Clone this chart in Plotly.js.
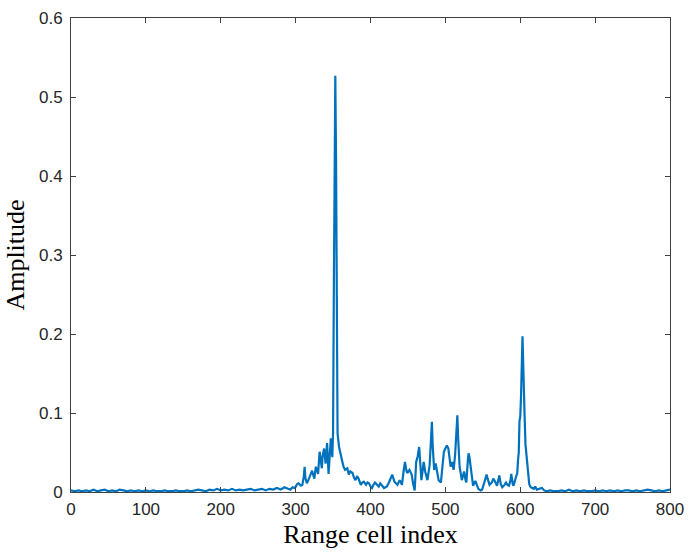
<!DOCTYPE html>
<html>
<head>
<meta charset="utf-8">
<script src="https://cdn.plot.ly/plotly-3.0.1.min.js"></script>
<style>html,body{margin:0;padding:0;background:#fff;}#chart{width:690px;height:558px;}</style>
</head>
<body>
<div id="chart"></div>
<script>
// Range cell index (x) and amplitude (y)
var rangeCell = [
  0,5,10,15,20,25,30,35,40,45,50,55,60,65,70,75,80,85,90,95,
  100,105,110,115,120,125,130,135,140,145,150,155,160,165,170,175,180,185,190,195,
  200,205,210,215,220,225,230,235,240,245,250,255,260,265,270,275,280,285,
  290,293,296,299,302,304,307,309,311,312,313,315,317,319,322,324,325,327,329,330,
  332,334,335,336,338,340,342,344,345,347,349,350,351,352,353,354,355,356,358,360,
  362,364,366,369,371,373,376,378,380,382,384,387,389,391,394,396,398,400,402,404,
  406,409,411,413,416,418,420,422,425,427,429,431,432,434,436,439,441,442,444,446,
  448,449,452,455,457,459,461,463,465,467,468,470,471,473,476,479,481,482,483,485,
  487,489,491,494,496,498,500,502,504,506,507,509,511,513,515,516,517,519,522,525,
  527,528,530,531,532,534,537,540,542,544,547,549,552,555,557,559,562,564,566,569,
  571,572,574,576,579,581,583,585,587,588,590,591,594,596,597,598,599,600,601,602,
  603,604,605,606,607,608,610,611,612,614,616,618,620,622,625,629,632,635,
  640,645,650,655,660,665,670,675,680,685,690,695,700,705,710,715,720,725,730,735,
  740,745,750,755,760,765,770,775,780,785,790,795,800
];
var amplitude = [
  0.002,0.001,0.002,0.001,0.002,0.001,0.003,0.001,0.002,0.003,0.001,0.002,0.001,0.003,0.002,0.001,0.002,0.001,0.002,0.001,
  0.002,0.001,0.002,0.001,0.001,0.002,0.001,0.001,0.002,0.001,0.001,0.002,0.001,0.002,0.003,0.002,0.001,0.003,0.002,0.004,
  0.002,0.003,0.002,0.004,0.002,0.003,0.002,0.003,0.004,0.002,0.003,0.004,0.002,0.004,0.003,0.005,0.003,0.006,
  0.004,0.003,0.006,0.005,0.010,0.011,0.008,0.009,0.020,0.032,0.018,0.011,0.015,0.021,0.027,0.020,0.017,0.032,0.025,0.023,
  0.051,0.030,0.030,0.045,0.055,0.036,0.062,0.023,0.045,0.068,0.044,0.075,0.250,0.450,0.527,0.420,0.200,0.074,0.057,0.050,
  0.040,0.032,0.028,0.030,0.022,0.026,0.024,0.018,0.015,0.020,0.017,0.009,0.012,0.013,0.009,0.012,0.011,0.007,0.005,0.009,
  0.012,0.009,0.007,0.011,0.008,0.005,0.006,0.007,0.013,0.018,0.022,0.016,0.013,0.011,0.009,0.015,0.012,0.009,0.025,0.038,
  0.027,0.024,0.028,0.022,0.010,0.002,0.038,0.045,0.057,0.030,0.015,0.030,0.038,0.026,0.015,0.034,0.070,0.089,0.060,0.028,
  0.036,0.025,0.015,0.012,0.030,0.051,0.055,0.059,0.055,0.040,0.032,0.038,0.028,0.047,0.080,0.097,0.070,0.032,0.015,0.026,
  0.015,0.012,0.040,0.049,0.045,0.032,0.008,0.014,0.008,0.004,0.002,0.003,0.012,0.022,0.015,0.009,0.012,0.017,0.014,0.008,
  0.016,0.021,0.010,0.006,0.009,0.012,0.009,0.008,0.015,0.023,0.010,0.008,0.018,0.024,0.040,0.050,0.090,0.095,0.120,0.170,
  0.197,0.160,0.110,0.090,0.060,0.045,0.030,0.020,0.010,0.006,0.005,0.004,0.007,0.003,0.004,0.005,0.002,0.001,
  0.002,0.001,0.001,0.002,0.001,0.003,0.001,0.002,0.001,0.002,0.001,0.001,0.002,0.001,0.002,0.001,0.002,0.001,0.002,0.001,
  0.002,0.002,0.001,0.002,0.001,0.002,0.003,0.002,0.001,0.002,0.001,0.002,0.003
];
var xTicks = [0,100,200,300,400,500,600,700,800];
var yTicks = [0,0.1,0.2,0.3,0.4,0.5,0.6];
var yTickLabels = ['0','0.1','0.2','0.3','0.4','0.5','0.6'];

var trace = {
  x: rangeCell, y: amplitude, type: 'scatter', mode: 'lines',
  line: {color: '#0072BD', width: 2.2}, hoverinfo: 'none'
};
var axisCommon = {
  showgrid: false, zeroline: false, showline: true, linecolor: '#404040', linewidth: 1,
  mirror: 'ticks', ticks: 'inside', ticklen: 5, tickwidth: 1, tickcolor: '#404040',
  tickfont: {family: 'Liberation Sans, Arial, sans-serif', size: 17, color: '#262626'}
};
var layout = {
  width: 690, height: 558,
  margin: {l: 71, r: 20, t: 18, b: 66},
  paper_bgcolor: '#fff', plot_bgcolor: '#fff', showlegend: false,
  xaxis: Object.assign({}, axisCommon, {
    range: [0, 800], tickvals: xTicks, ticktext: xTicks.map(String),
    ticklabelstandoff: 2,
    title: {text: 'Range cell index', font: {family: 'Liberation Serif, Times New Roman, serif', size: 26, color: '#000'}, standoff: 6}
  }),
  yaxis: Object.assign({}, axisCommon, {
    range: [0, 0.6], tickvals: yTicks, ticktext: yTickLabels,
    ticklabelstandoff: 4,
    title: {text: 'Amplitude', font: {family: 'Liberation Serif, Times New Roman, serif', size: 26, color: '#000'}, standoff: 6}
  })
};
Plotly.newPlot('chart', [trace], layout, {staticPlot: true, displayModeBar: false});
</script>
</body>
</html>
